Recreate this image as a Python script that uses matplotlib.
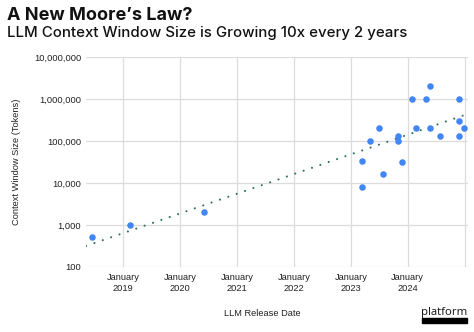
import numpy as np
import pandas as pd
import matplotlib
matplotlib.use("Agg")
import matplotlib.pyplot as plt
import matplotlib.dates as mdates
from matplotlib.ticker import FixedLocator, FuncFormatter
from matplotlib.patches import Rectangle

# release dates and context window sizes (tokens)
release_dates = [
    "2018-06-11", "2019-02-14", "2020-06-01",
    "2023-03-14", "2023-03-14", "2023-05-01", "2023-06-28", "2023-07-25",
    "2023-10-30", "2023-10-30", "2023-11-25",
    "2024-01-26", "2024-02-24", "2024-04-27", "2024-05-26", "2024-05-26",
    "2024-07-23", "2024-11-25", "2024-11-25", "2024-11-25", "2024-12-28",
]
context_tokens = [
    512, 1024, 2048,
    8192, 32768, 100000, 200000, 16385,
    128000, 100000, 32000,
    1000000, 200000, 1000000, 2000000, 200000,
    128000, 1000000, 300000, 128000, 200000,
]
year_ticks = [2019, 2020, 2021, 2022, 2023, 2024, 2025]
y_ticks = [100, 1000, 10000, 100000, 1000000, 10000000]

BLUE = "#4285F4"
TREND = "#2f6f68"
GRID = "#dcdcdc"

dates = pd.to_datetime(release_dates)
x = mdates.date2num(dates)
y = np.array(context_tokens, dtype=float)

# exponential trendline: linear fit on log10(tokens)
slope, intercept = np.polyfit(x, np.log10(y), 1)

fig = plt.figure(figsize=(4.74, 3.32), dpi=100)
ax = fig.add_axes([86 / 474, 1 - 267 / 332, (468 - 86) / 474, (267 - 57) / 332])

x_min = mdates.date2num(pd.Timestamp("2018-05-06"))
x_max = mdates.date2num(pd.Timestamp("2025-01-22"))
xt = np.linspace(x_min, x_max, 200)
ax.plot(xt, 10 ** (slope * xt + intercept), linestyle=(0, (0.05, 4.2)),
        color=TREND, linewidth=1.5, dash_capstyle="round", zorder=2)
ax.scatter(x, y, s=22, color=BLUE, zorder=3, linewidths=0)

ax.set_yscale("log")
ax.set_ylim(100, 10000000)
ax.set_xlim(x_min, x_max)

ax.yaxis.set_major_locator(FixedLocator(y_ticks))
ax.yaxis.set_minor_locator(FixedLocator([]))
ax.yaxis.set_major_formatter(FuncFormatter(lambda v, p: f"{int(v):,}"))

tick_pos = [mdates.date2num(pd.Timestamp(f"{yr}-01-01")) for yr in year_ticks]
tick_lbl = [f"January\n{yr}" if yr < 2025 else "" for yr in year_ticks]
ax.set_xticks(tick_pos, tick_lbl)

ax.grid(True, color=GRID, linewidth=0.9)
ax.set_axisbelow(True)
for s in ax.spines.values():
    s.set_visible(False)
ax.tick_params(axis="both", length=0, labelsize=6.7, labelcolor="#222222")
ax.tick_params(axis="y", pad=3.5)
ax.tick_params(axis="x", pad=4.5)
for lbl in ax.get_xticklabels() + ax.get_yticklabels():
    lbl.set_fontfamily("Liberation Sans")
for lbl in ax.get_xticklabels():
    lbl.set_linespacing(1.25)

fig.text(17 / 474, 1 - 162 / 332, "Context Window Size (Tokens)", rotation=90,
         ha="center", va="center", fontsize=6.7, family="Liberation Sans", color="#222222")
fig.text(262 / 474, 1 - 314 / 332, "LLM Release Date", ha="center", va="center",
         fontsize=6.7, family="Liberation Sans", color="#222222")

fig.text(7 / 474, 1 - 19.5 / 332, "A New Moore\u2019s Law?", ha="left", va="baseline",
         fontsize=13, fontweight="bold", family="Inter", color="#111111")
fig.text(7 / 474, 1 - 37 / 332, "LLM Context Window Size is Growing 10x every 2 years",
         ha="left", va="baseline", fontsize=10.8, fontweight="medium", family="Inter",
         color="#111111")

# logo
fig.text(444.5 / 474, 1 - 315 / 332, "platform", ha="center", va="baseline",
         fontsize=8.2, family="Open Sans", color="#111111")
fig.patches.append(Rectangle((422 / 474, 1 - 322.5 / 332), 45 / 474, 5 / 332,
                             transform=fig.transFigure, color="black"))

fig.savefig("out.png", dpi=100)
